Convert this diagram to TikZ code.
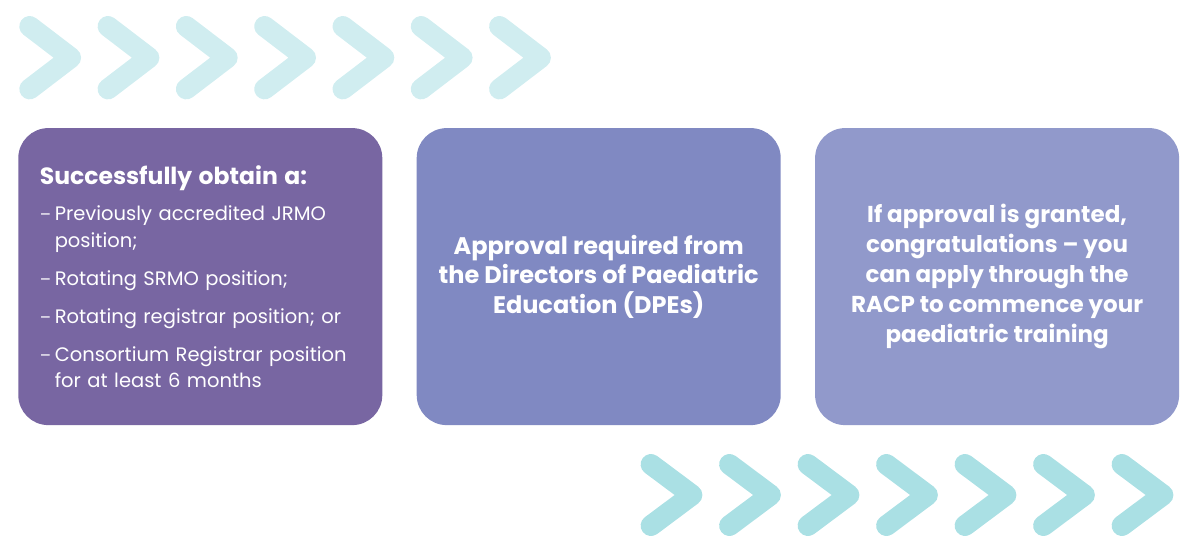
\documentclass[tikz,border=0pt]{standalone}
\usepackage{fontspec}
\setmainfont{Poppins}
\usetikzlibrary{positioning}

\definecolor{chevlight}{HTML}{D0EDF0}
\definecolor{chevdark}{HTML}{AAE0E4}
\definecolor{stageone}{HTML}{7866A2}
\definecolor{stagetwo}{HTML}{8089C2}
\definecolor{stagethree}{HTML}{9199CB}

\newcommand{\itemdash}{\makebox[15pt][l]{\fontsize{16.5}{16.5}\selectfont–}}

\begin{document}
\begin{tikzpicture}[x=1pt,y=-1pt,
  chevron/.style={line width=20.8pt,line cap=round,line join=round},
  stage/.style={rounded corners=30pt,minimum width=364pt,minimum height=297pt,inner sep=0pt,text=white}]
\useasboundingbox (0,0) rectangle (1196,554);
\foreach \i in {0,...,6}
  \draw[chevron,chevlight] (29.7+78.3*\i,26.4) -- ++(41,31.3) -- ++(-41,31.3);
\foreach \i in {0,...,6}
  \draw[chevron,chevdark] (651+78.5*\i,464.4) -- ++(41,30.6) -- ++(-41,30.6);
\node[stage,fill=stageone,align=left,text width=321pt,font=\fontsize{19.5}{26.5}\selectfont] (obtain) at (200.3,276.6)
  {{\fontsize{23.5}{26.5}\selectfont\bfseries Successfully obtain a:}\\[10pt]
   \itemdash Previously accredited JRMO\\
   \hspace*{15pt}position;\\[11.5pt]
   \itemdash Rotating SRMO position;\\[11.5pt]
   \itemdash Rotating registrar position; or\\[11.5pt]
   \itemdash Consortium Registrar position\\
   \hspace*{15pt}for at least 6 months};
\node[stage,fill=stagetwo,align=center,font=\fontsize{24}{29.5}\selectfont\bfseries,right=34pt of obtain] (approve)
  {Approval required from\\the Directors of Paediatric\\Education (DPEs)};
\node[stage,fill=stagethree,align=center,font=\fontsize{23}{30}\selectfont\bfseries,right=34pt of approve] (granted)
  {If approval is granted,\\congratulations – you\\can apply through the\\RACP to commence your\\paediatric training};
\end{tikzpicture}
\end{document}
